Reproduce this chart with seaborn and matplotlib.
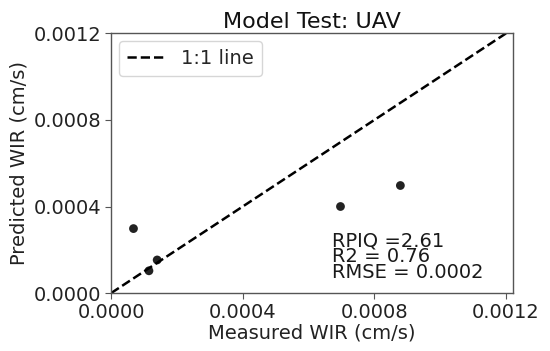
import pandas as pd
import matplotlib
matplotlib.use('Agg')
import matplotlib.pyplot as plt
import seaborn as sns

# Measured vs predicted WIR (cm/s)
measured = [0.000068, 0.000115, 0.000140, 0.000697, 0.000879]
predicted = [0.000298, 0.000103, 0.000153, 0.000400, 0.000497]
line_ends = [0.0, 0.0012]
ticks = [0.0, 0.0004, 0.0008, 0.0012]
stats_text = 'RPIQ =2.61\nR2 = 0.76\nRMSE = 0.0002'

df = pd.DataFrame({'Measured': measured, 'Predicted': predicted})
line_df = pd.DataFrame({'x': line_ends, 'y': line_ends})

sns.set_theme(style='white')
plt.rcParams['font.family'] = ['DejaVu Sans']
plt.rcParams['font.size'] = 14

fig, ax = plt.subplots(figsize=(5.5, 3.51), dpi=100)
sns.lineplot(data=line_df, x='x', y='y', ax=ax, color='black', linestyle='--',
             linewidth=1.8, label='1:1 line')
sns.scatterplot(data=df, x='Measured', y='Predicted', ax=ax, color='#222222',
                s=40, edgecolor='none')

ax.set_xlim(0, 0.00122)
ax.set_ylim(0, 0.0012)
ax.set_xticks(ticks)
ax.set_yticks(ticks)
ax.set_xticklabels([f'{t:.4f}' for t in ticks], fontsize=14, color='#222222')
ax.set_yticklabels([f'{t:.4f}' for t in ticks], fontsize=14, color='#222222')
ax.tick_params(axis='both', length=4, width=0.8, color='#555555', bottom=True, left=True, pad=3)
for sp in ax.spines.values():
    sp.set_color('#555555')
    sp.set_linewidth(1.0)

ax.set_xlabel('Measured WIR (cm/s)', fontsize=14, labelpad=1, color='#222222')
ax.set_ylabel('Predicted WIR (cm/s)', fontsize=14, labelpad=4, color='#222222')
ax.set_title('Model Test: UAV', fontsize=16, pad=4, color='#111111')
ax.text(0.000670, 0.00005, stats_text, fontsize=14, va='bottom', ha='left',
        linespacing=0.8, color='#1a1a1a')
ax.legend(loc='upper left', fontsize=14, handlelength=2.0, frameon=True,
          borderaxespad=0.4)

fig.subplots_adjust(left=0.202, right=0.932, top=0.905, bottom=0.165)
fig.savefig('out.png', dpi=100)
